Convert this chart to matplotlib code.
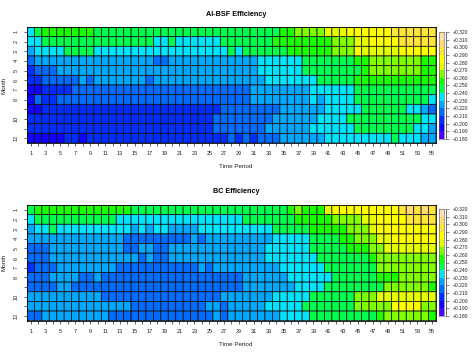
import numpy as np
import matplotlib
matplotlib.use("Agg")
import matplotlib.pyplot as plt
from matplotlib.colors import ListedColormap, BoundaryNorm

plt.rcParams['font.family'] = ['Liberation Sans', 'DejaVu Sans']

# Colour class of each cell (hex digit: class k covers 0.18+0.01k .. 0.19+0.01k)
ai_bsf = [
 "5"+"6"+"7"*7+"6"*9+"6"*10 + "7"*0 + "6"*6+"7"*2+"8"*4+"9"*3+"a"*6+"b"*6,
 "55"+"6"*15+"55"+"6"+"5"*6+"66" + "6"*5+"7"*8+"8"*3+"9"*2+"a"*4+"b"*5,
 "4"+"5"*4+"6"*4+"5"*18+"6" + "5"+"6"*6+"7"*6+"8"*3+"a"+"9"*5+"a"*5,
 "3"+"4"*16+"33"+"4"*9 + "4"*3+"5"*6+"6"*7+"7"*2+"8"*7+"7"*2,
 "2"+"3"*3+"4"*24 + "4"*3+"5"*6+"6"*8+"7"+"8"*7+"7"*2,
 "22"+"3"*5+"4"+"3"+"4"*7+"3"+"4"*11 + "4"*4+"5"*7+"6"*5+"7"*11,
 "11"+"2"*4+"3"*22 + "33"+"4"*8+"5"*6+"6"*11,
 "1"+"3"+"2"*2+"3"*24 + "33"+"4"*8+"5"+"4"+"5"*4+"6"*10+"5",
 "11"+"2"*24+"33" + "3"*6+"4"*6+"5"*5+"6"*6+"55"+"4"+"3",
 "2"*25+"333" + "3"*5+"4"*6+"5"*4+"6"*10+"55",
 "2"*25+"333" + "3"*4+"4"*6+"5"*6+"6"*8+"55"+"4",
 "1"*5+"22"+"1"+"2"*19+"3" + "2"+"3"+"2"+"3"*3+"4"*6+"5"*9+"6"+"5"*3+"44",
]
bc = [
 "6"+"7"*13+"6"*14 + "6"*7+"7"+"8"+"7"*3+"9"+"a"*9+"b"+"c"+"b"+"c"+"b",
 "5"+"6"*11+"5"*16 + "5"+"6"*7+"7"*5+"8"*4+"9"*2+"a"*4+"b"*4,
 "4"+"55"+"6"+"5"*10+"4"+"5"+"4"+"55"+"4"*4+"5"*5 + "5"*5+"6"*5+"7"*5+"8"*3+"9"+"a"*8,
 "4"*13+"3"*9+"4"+"3"+"4"*4 + "4"*5+"5"*5+"6"*4+"7"*2+"8"*3+"9"*2+"a"*6,
 "333"+"4"*10+"33"+"44"+"33"+"4"*9 + "4"*4+"5"*6+"6"*5+"7"*3+"8"*2+"9"*7,
 "333"+"4"*12+"3"+"4"+"33"+"4"*9 + "4"*4+"5"*7+"6"*7+"7"+"8"*8,
 "2"+"333"+"4"*8+"3"*11+"4"+"3"+"4"*3 + "4"*6+"5"*6+"6"*7+"8"*8,
 "333"+"4"*4+"33"+"4"+"3"*18 + "3"+"4"*6+"5"*6+"6"*6+"7"*3+"8"*5,
 "3333"+"44"+"3"*22 + "3"+"4"*7+"5"*4+"6"*8+"8"*6+"7",
 "4"*10+"3"*16+"44" + "4"*5+"5"*5+"6"*6+"8"*3+"9"*8,
 "4"*14+"3"*10+"44"+"3"+"4" + "4"*4+"5"*5+"6"*7+"8"*5+"a"*4+"8"*2,
 "33"+"4"*9+"3"*14+"4"+"3"+"4" + "4"*6+"5"*4+"6"*9+"7"+"8"*6+"7",
]
month_labels = ["1","2","3","4","5","6","7","8","","10","","12"]
level_ticks = [0.18,0.19,0.20,0.21,0.22,0.23,0.24,0.25,0.26,0.27,0.28,0.29,0.30,0.31,0.32]
topo = ["#4C00FF","#0F00FF","#002EFF","#006BFF","#00A8FF","#00E5FF",
        "#00FF4D","#1AFF00","#80FF00","#E6FF00",
        "#FFFF00","#FFE53B","#FFDB77","#FFE0B3"]

def to_values(rows):
    assert all(len(r) == 55 for r in rows), [len(r) for r in rows]
    return np.array([[0.185 + 0.01*int(c, 16) for c in r] for r in rows])

cmap = ListedColormap(topo)
norm = BoundaryNorm(level_ticks, cmap.N)
W, H = 474, 355
fig = plt.figure(figsize=(W/100, H/100), dpi=100)

def box(x0, y0, x1, y1):
    return [x0/W, 1-y1/H, (x1-x0)/W, (y1-y0)/H]

def panel(rows, title, top, bottom, bar_top, bar_bottom, title_y, xlabel_y, ylabel_y):
    ax = fig.add_axes(box(27, top, 436, bottom))
    data = to_values(rows)
    mesh = ax.pcolormesh(np.arange(0.5, 56), np.arange(0.5, 13), data, cmap=cmap, norm=norm,
                         edgecolors="#101010", linewidth=0.55, antialiased=True)
    mesh.set_snap(False)
    ax.set_ylim(12.5, 0.5)
    ax.set_xlim(0.5, 55.5)
    ax.set_xticks(np.arange(1, 56))
    ax.set_xticklabels([str(i) if i % 2 else "" for i in range(1, 56)], fontsize=4, color="#222222")
    ax.set_yticks(np.arange(1, 13))
    ax.set_yticklabels(month_labels, fontsize=4, rotation=90, va="center", color="#222222")
    ax.tick_params(axis="both", length=2.2, width=0.5, pad=3.5, color="#222222")
    for s in ax.spines.values():
        s.set_linewidth(0.6)
    fig.text(236/W, 1-title_y/H, title, fontsize=5.2, fontweight="bold", ha="center", va="center")
    fig.text(236/W, 1-xlabel_y/H, "Time Period", fontsize=4.5, ha="center", va="center", color="#222222")
    fig.text(4.5/W, 1-ylabel_y/H, "Month", fontsize=4.5, rotation=90, ha="center", va="center", color="#222222")

    cax = fig.add_axes(box(438.5, bar_top, 443.5, bar_bottom))
    cells = np.array(level_ticks[:-1]).reshape(-1, 1) + 0.005
    cax.pcolormesh([0, 1], level_ticks, cells, cmap=cmap, norm=norm)
    cax.set_xticks([])
    cax.set_yticks([])
    for s in cax.spines.values():
        s.set_linewidth(0.4)
        s.set_color("#555555")
    tw = cax.twinx()
    tw.spines["right"].set_position(("outward", 2.1))
    tw.spines["right"].set_linewidth(0.4)
    tw.set_ylim(level_ticks[0], level_ticks[-1])
    tw.set_yticks(level_ticks)
    tw.set_yticklabels([f"+{v:.3f}" for v in level_ticks], fontsize=3.6, color="#222222")
    tw.tick_params(axis="y", length=2, width=0.4, pad=2.5, color="#333333")
    for name, s in tw.spines.items():
        s.set_visible(name == "right")

panel(ai_bsf, "AI-BSF Efficiency", 27, 143, 32, 139, 14, 167, 85)
panel(bc, "BC Efficiency", 205, 320.7, 209, 316, 192, 344, 262)
fig.savefig("out.png", dpi=100)
